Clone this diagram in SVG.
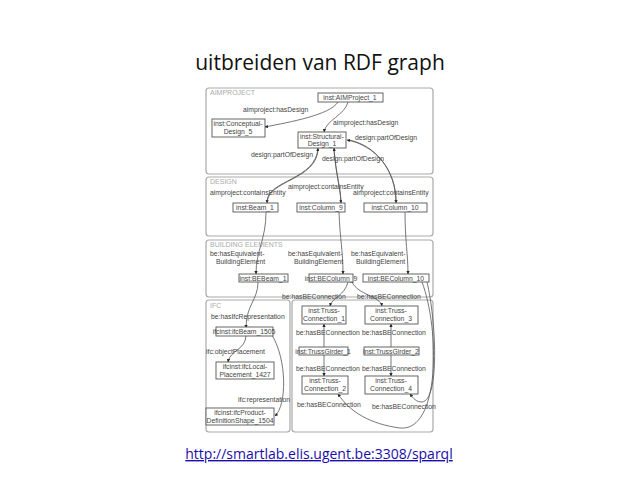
<svg xmlns="http://www.w3.org/2000/svg" width="638" height="478" viewBox="0 0 638 478">
<defs>
<marker id="a" viewBox="0 0 6 6" refX="5.5" refY="3" markerWidth="4" markerHeight="4" orient="auto"><path d="M0,0 L6,3 L0,6 z" fill="#222"/></marker>
<style>
.p{fill:none;stroke:#aaa;stroke-width:1.2}
.pl{font:7px "Liberation Sans",sans-serif;fill:#aaa}
.n rect{fill:#fff;stroke:#555;stroke-width:0.9}
.n text,.l{font:6.8px "Liberation Sans",sans-serif;fill:#444}
.n text{text-anchor:middle}
.e path{fill:none;stroke:#555;stroke-width:0.8;marker-end:url(#a)}
</style>
</defs>
<rect width="638" height="478" fill="#fff"/>
<text x="320" y="70" text-anchor="middle" font-family="Open Sans,Liberation Sans,sans-serif" font-size="21" fill="#111">uitbreiden van RDF graph</text>
<g id="panels">
<rect class="p" x="206" y="88" width="227" height="86" rx="3"/><text class="pl" x="210" y="95">AIMPROJECT</text>
<rect class="p" x="206" y="177" width="227" height="59" rx="3"/><text class="pl" x="210" y="184">DESIGN</text>
<rect class="p" x="206" y="240" width="227" height="57" rx="3"/><text class="pl" x="210" y="247">BUILDING ELEMENTS</text>
<rect class="p" x="206" y="300" width="84" height="132" rx="3"/><text class="pl" x="210" y="308">IFC</text>
<rect class="p" x="292" y="300" width="141" height="132" rx="3"/>
</g>
<g id="edges" class="e">
<path d="M338,102 C330,115 290,122 265,127"/>
<path d="M348,102 C345,115 326,120 324,132"/>
<path d="M318,150 C316,180 268,180 267,203"/>
<path d="M267,201 C268,180 316,180 318,148"/>
<path d="M334,150 C336,175 340,185 341,203"/>
<path d="M341,201 C340,185 336,175 334,148"/>
<path d="M349,140 C375,145 396,170 396,203"/>
<path d="M396,201 C396,170 375,145 347,140"/>
<path d="M266,212 C266,240 256,250 256,274"/>
<path d="M339,212 C340,240 343,250 343,274"/>
<path d="M405,212 C405,240 408,255 408,274"/>
<path d="M258,282 C258,300 246,305 246,328"/>
<path d="M246,335 C246,350 230,350 228,362"/>
<path d="M272,335 C287,360 287,405 275,416"/>
<path d="M348,282 C345,295 332,298 330,306"/>
<path d="M352,282 C358,295 380,296 382,306"/>
<path d="M324,347 L324,324"/>
<path d="M324,355 L324,376"/>
<path d="M391,347 L391,324"/>
<path d="M391,355 L391,376"/>
<path d="M422,282 C440,330 440,432 400,428 C370,424 350,412 338,394"/>
<path d="M427,282 C436,320 440,400 422,402 C416,402 413,398 410,394"/>
</g>
<g id="labels" class="l">
<text x="243" y="112">aimproject:hasDesign</text>
<text x="333" y="125">aimproject:hasDesign</text>
<text x="355" y="140">design:partOfDesign</text>
<text x="251" y="157">design:partOfDesign</text>
<text x="322" y="161">design:partOfDesign</text>
<text x="288" y="189">aimproject:containsEntity</text>
<text x="210" y="195">aimproject:containsEntity</text>
<text x="353" y="195">aimproject:containsEntity</text>
<text x="210" y="256">be:hasEquivalent-</text><text x="216" y="264">BuildingElement</text>
<text x="288" y="256">be:hasEquivalent-</text><text x="294" y="264">BuildingElement</text>
<text x="351" y="256">be:hasEquivalent-</text><text x="356" y="264">BuildingElement</text>
<text x="282" y="299">be:hasBEConnection</text>
<text x="357" y="299">be:hasBEConnection</text>
<text x="211" y="319">be:hasIfcRepresentation</text>
<text x="296" y="335">be:hasBEConnection</text>
<text x="362" y="335">be:hasBEConnection</text>
<text x="206" y="354">ifc:objectPlacement</text>
<text x="296" y="371">be:hasBEConnection</text>
<text x="362" y="371">be:hasBEConnection</text>
<text x="238" y="402">ifc:representation</text>
<text x="297" y="407">be:hasBEConnection</text>
<text x="372" y="409">be:hasBEConnection</text>
</g>
<g id="AIMProject_1" class="n"><rect x="318" y="93" width="65" height="9"/><text x="350" y="100">inst:AIMProject_1</text></g>
<g id="ConceptualDesign_5" class="n"><rect x="212" y="119" width="53" height="18"/><text x="238" y="126">inst:Conceptual-</text><text x="238" y="134">Design_5</text></g>
<g id="StructuralDesign_1" class="n"><rect x="298" y="132" width="48" height="16"/><text x="322" y="139">inst:Structural-</text><text x="322" y="146">Design_1</text></g>
<g id="Beam_1" class="n"><rect x="233" y="203" width="45" height="9"/><text x="255" y="210">inst:Beam_1</text></g>
<g id="Column_9" class="n"><rect x="297" y="203" width="48" height="9"/><text x="321" y="210">inst:Column_9</text></g>
<g id="Column_10" class="n"><rect x="364" y="203" width="63" height="9"/><text x="395" y="210">inst:Column_10</text></g>
<g id="BEBeam_1" class="n"><rect x="239" y="274" width="49" height="8"/><text x="263" y="281">inst:BEBeam_1</text></g>
<g id="BEColumn_9" class="n"><rect x="309" y="274" width="44" height="8"/><text x="331" y="281">inst:BEColumn_9</text></g>
<g id="BEColumn_10" class="n"><rect x="363" y="274" width="66" height="8"/><text x="396" y="281">inst:BEColumn_10</text></g>
<g id="TC1" class="n"><rect x="302" y="306" width="44" height="18"/><text x="324" y="313">inst:Truss-</text><text x="324" y="321">Connection_1</text></g>
<g id="TC3" class="n"><rect x="365" y="306" width="53" height="18"/><text x="391" y="313">inst:Truss-</text><text x="391" y="321">Connection_3</text></g>
<g id="TG1" class="n"><rect x="299" y="347" width="49" height="8"/><text x="323" y="354">inst:TrussGirder_1</text></g>
<g id="TG2" class="n"><rect x="364" y="347" width="55" height="8"/><text x="391" y="354">inst:TrussGirder_2</text></g>
<g id="TC2" class="n"><rect x="302" y="376" width="46" height="18"/><text x="325" y="383">inst:Truss-</text><text x="325" y="391">Connection_2</text></g>
<g id="TC4" class="n"><rect x="365" y="376" width="53" height="18"/><text x="391" y="383">inst:Truss-</text><text x="391" y="391">Connection_4</text></g>
<g id="ifcBeam_1505" class="n"><rect x="216" y="327" width="57" height="9"/><text x="244" y="334">ifcinst:ifcBeam_1505</text></g>
<g id="LocalPlacement_1427" class="n"><rect x="216" y="362" width="58" height="17"/><text x="245" y="369">ifcinst:ifcLocal-</text><text x="245" y="377">Placement_1427</text></g>
<g id="PDS_1504" class="n"><rect x="206" y="408" width="68" height="17"/><text x="240" y="415">ifcinst:ifcProduct-</text><text x="240" y="423">DefinitionShape_1504</text></g>
<text x="319" y="459" text-anchor="middle" font-family="Open Sans,Liberation Sans,sans-serif" font-size="14" fill="#1a0dab" text-decoration="underline">http://smartlab.elis.ugent.be:3308/sparql</text>
</svg>
